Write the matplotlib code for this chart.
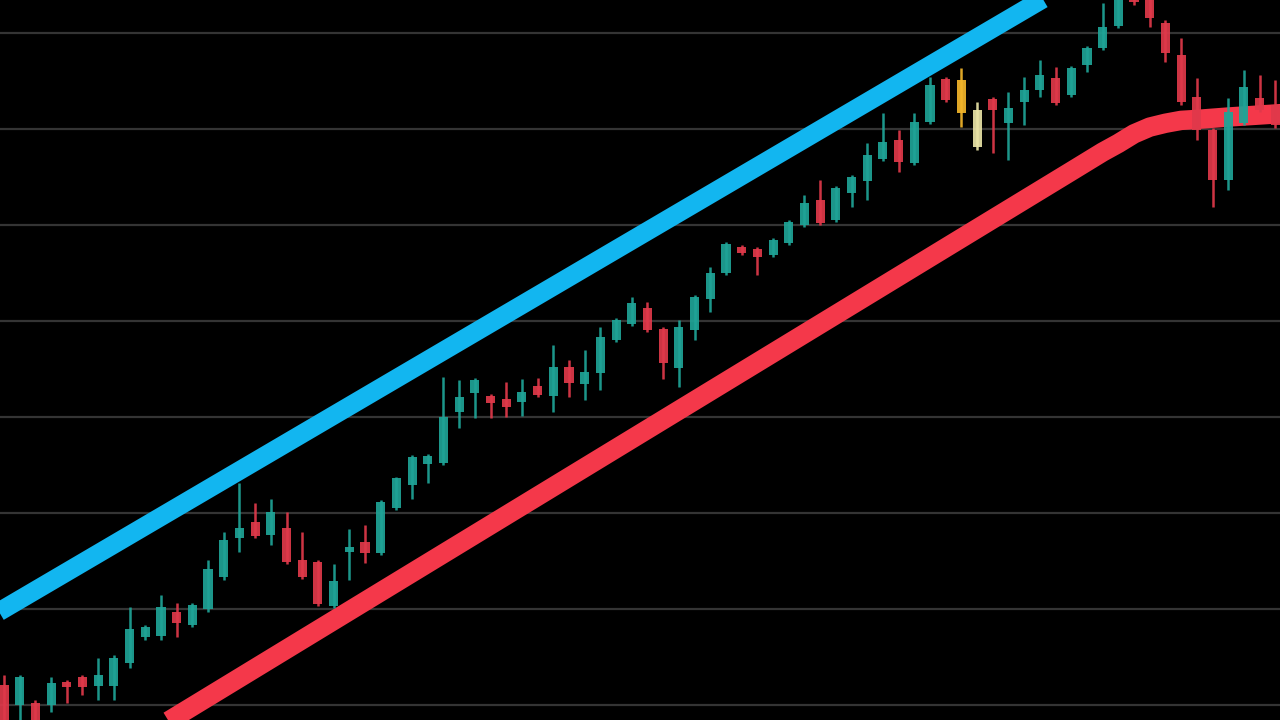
import matplotlib
matplotlib.use("Agg")
from matplotlib import pyplot as plt
import numpy as np

# daily candles (open, high, low, close)
opens = [102.1, 100.0, 100.2, 100.0, 102.4, 102.9, 102.0, 102.0, 104.4, 107.1,
         107.2, 109.7, 108.3, 110.0, 113.3, 117.4, 119.1, 117.7, 118.4, 115.1,
         114.9, 110.3, 115.9, 117.0, 115.8, 120.5, 122.9, 125.1, 125.2, 130.5,
         132.5, 132.2, 131.9, 131.6, 133.2, 132.2, 135.2, 133.4, 134.6, 138.0,
         139.7, 141.4, 139.2, 135.1, 139.1, 142.3, 145.0, 147.7, 147.5, 146.9,
         148.1, 150.0, 152.6, 150.5, 153.3, 154.6, 156.9, 158.9, 156.5, 160.7,
         165.2, 165.1, 162.0, 163.1, 160.6, 162.8, 164.1, 165.3, 163.5, 166.7,
         168.4, 170.7, 175.0, 173.9, 171.0, 167.7, 163.3, 159.9, 154.7, 160.6,
         163.2, 162.5]
highs = [103.1, 103.1, 100.5, 102.9, 102.6, 103.1, 104.9, 105.2, 110.2, 108.3,
         111.5, 110.6, 110.6, 115.1, 118.0, 123.1, 121.0, 121.5, 120.1, 118.0,
         115.1, 114.7, 118.3, 118.8, 121.4, 123.8, 126.0, 126.1, 134.2, 133.9,
         134.1, 132.4, 133.6, 134.0, 134.1, 137.5, 135.9, 137.0, 139.4, 140.3,
         142.5, 142.0, 139.4, 140.1, 142.7, 145.6, 148.2, 147.9, 147.7, 148.6,
         150.5, 153.1, 154.7, 154.1, 155.2, 158.5, 161.7, 159.9, 161.7, 165.4,
         165.4, 166.4, 162.8, 163.3, 163.9, 165.4, 167.2, 166.5, 166.6, 168.6,
         173.1, 175.0, 176.0, 174.5, 171.4, 169.5, 165.3, 160.1, 163.2, 166.1,
         165.6, 165.1]
lows = [97.6, 98.4, 97.9, 99.3, 100.2, 101.0, 100.5, 100.5, 103.9, 106.8,
        106.8, 107.1, 108.1, 109.7, 113.0, 115.9, 117.4, 116.7, 114.7, 113.1,
        110.3, 110.1, 113.0, 114.8, 115.6, 120.3, 121.5, 123.1, 125.0, 128.9,
        129.9, 129.9, 130.0, 130.1, 132.1, 130.5, 132.1, 131.8, 132.8, 137.8,
        139.5, 138.9, 134.0, 133.1, 138.0, 140.9, 144.8, 146.9, 144.8, 146.7,
        147.9, 149.8, 150.0, 150.3, 151.9, 152.6, 156.7, 155.5, 156.3, 160.5,
        162.8, 160.2, 157.8, 157.5, 156.8, 160.4, 163.3, 162.5, 163.3, 165.9,
        168.2, 170.5, 172.9, 170.6, 167.0, 162.5, 158.9, 151.9, 153.6, 160.4,
        161.8, 160.1]
closes = [97.9, 102.9, 98.2, 102.3, 101.9, 101.9, 103.1, 104.9, 107.9, 108.1,
          110.2, 108.5, 110.4, 114.2, 117.2, 118.4, 117.6, 120.1, 114.9, 113.3,
          110.5, 112.9, 116.5, 115.8, 121.2, 123.6, 125.8, 125.9, 130.0, 132.1,
          133.9, 131.5, 131.0, 132.6, 132.3, 135.2, 133.5, 134.7, 138.3, 140.1,
          141.9, 139.1, 135.6, 139.4, 142.5, 145.0, 148.0, 147.1, 146.7, 148.4,
          150.3, 152.3, 150.2, 153.9, 155.0, 157.3, 158.6, 156.6, 160.7, 164.6,
          163.0, 161.7, 158.1, 162.0, 162.2, 164.1, 165.6, 162.7, 166.4, 168.4,
          170.6, 174.3, 173.2, 171.6, 167.9, 162.8, 159.9, 154.7, 161.8, 164.4,
          162.0, 160.4]
# a few candles are highlighted in other colours
highlight = {61: "#f2b52a", 62: "#e9e3a6"}

# upper (blue) and lower (red) channel lines
blue_days = [-2, 70]
blue_vals = [108.1, 177.2]
red_days = [-1, 68, 70, 71, 72, 73, 74, 75, 76, 78, 80, 82]
red_vals = [86.9, 155.6, 157.6, 158.5, 159.5, 160.2, 160.6, 160.9, 161.0,
            161.25, 161.46, 161.67]

grid_levels = [100, 110, 120, 130, 140, 150, 160, 170]

up_col = "#1fa497"
down_col = "#e0394a"

fig = plt.figure(figsize=(12.8, 7.2), dpi=100, facecolor="black")
ax = fig.add_axes([0, 0, 1, 1])
ax.set_facecolor("black")

for g in grid_levels:
    ax.axhline(g, color="#343434", lw=1.6, zorder=0)

ax.plot(blue_days, blue_vals, color="#12b6f0", lw=13.5, solid_capstyle="butt", zorder=1)
ax.plot(red_days, red_vals, color="#f4384a", lw=14, solid_capstyle="butt",
        solid_joinstyle="round", zorder=1)

days = np.arange(len(opens))
o = np.array(opens)
c = np.array(closes)
cols = [up_col if cc >= oo else down_col for oo, cc in zip(o, c)]
for i, col in highlight.items():
    cols[i] = col

ax.vlines(days, lows, highs, colors=cols, lw=1.8, zorder=2, alpha=0.92)
ax.bar(days, np.maximum(np.abs(c - o), 0.25), bottom=np.minimum(o, c), width=0.58,
       color=cols, zorder=3, alpha=0.92, linewidth=0)

ax.set_xlim(-0.255, 81.3)
ax.set_ylim(98.44, 173.44)
ax.axis("off")

fig.savefig("out.png", dpi=100, facecolor="black")
